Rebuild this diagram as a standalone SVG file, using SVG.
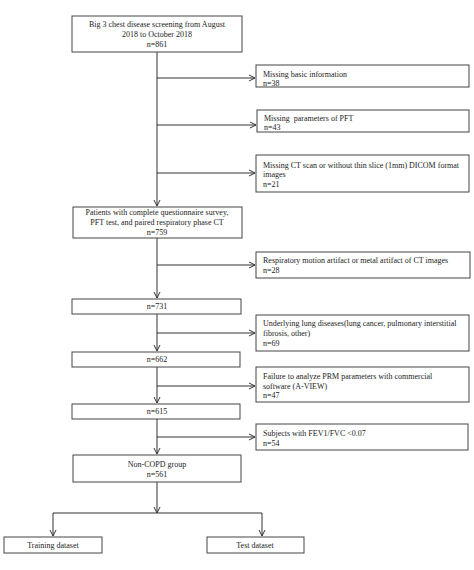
<svg xmlns="http://www.w3.org/2000/svg" width="474" height="570" viewBox="0 0 474 570">
<defs>
<marker id="ah" viewBox="0 0 8 8" refX="7" refY="4" markerWidth="8" markerHeight="8" markerUnits="userSpaceOnUse" orient="auto">
<path d="M1,1 L7,4 L1,7" fill="none" stroke="#333" stroke-width="1"/>
</marker>
<style>
.b{fill:#fff;stroke:#444;stroke-width:1}
.t{font-family:"Liberation Serif","Times New Roman",serif;font-size:8px;fill:#222}
.c{text-anchor:middle}
.l{fill:none;stroke:#333;stroke-width:1}
.a{marker-end:url(#ah)}
</style>
</defs>
<rect width="474" height="570" fill="#fff"/>
<g id="connectors">
<line class="l a" x1="157" y1="52" x2="157" y2="206"/>
<line class="l a" x1="157" y1="78" x2="255" y2="78"/>
<line class="l a" x1="157" y1="125" x2="256" y2="125"/>
<line class="l a" x1="157" y1="173" x2="255" y2="173"/>
<line class="l a" x1="157" y1="238" x2="157" y2="298"/>
<line class="l a" x1="157" y1="265" x2="255" y2="265"/>
<line class="l a" x1="157" y1="314" x2="157" y2="351"/>
<line class="l a" x1="157" y1="333" x2="255" y2="333"/>
<line class="l a" x1="157" y1="367" x2="157" y2="403"/>
<line class="l a" x1="157" y1="386" x2="255" y2="386"/>
<line class="l a" x1="157" y1="419" x2="157" y2="454"/>
<line class="l a" x1="157" y1="437" x2="255" y2="437"/>
<line class="l a" x1="157" y1="482" x2="157" y2="513"/>
<polyline class="l" points="53,513 262,513"/>
<line class="l a" x1="53" y1="513" x2="53" y2="536"/>
<line class="l a" x1="262" y1="513" x2="262" y2="536"/>
</g>
<g id="n1">
<rect class="b" x="72" y="16" width="170" height="36"/>
<text class="t c" x="157" y="27">Big 3 chest disease screening from August</text>
<text class="t c" x="157" y="37">2018 to October 2018</text>
<text class="t c" x="157" y="47">n=861</text>
</g>
<g id="e1">
<rect class="b" x="256" y="65" width="213" height="22"/>
<text class="t" x="263" y="77">Missing basic information</text>
<text class="t" x="263" y="86">n=38</text>
</g>
<g id="e2">
<rect class="b" x="257" y="110" width="212" height="22"/>
<text class="t" x="264" y="121">Missing &#160;parameters of PFT</text>
<text class="t" x="264" y="130">n=43</text>
</g>
<g id="e3">
<rect class="b" x="256" y="155" width="213" height="37"/>
<text class="t" x="263" y="168">Missing CT scan or without thin slice (1mm) DICOM format</text>
<text class="t" x="263" y="177">images</text>
<text class="t" x="263" y="187">n=21</text>
</g>
<g id="n2">
<rect class="b" x="73" y="207" width="169" height="31"/>
<text class="t c" x="157" y="215">Patients with complete questionnaire survey,</text>
<text class="t c" x="157" y="225">PFT test, and paired respiratory phase CT</text>
<text class="t c" x="157" y="235">n=759</text>
</g>
<g id="e4">
<rect class="b" x="256" y="252" width="214" height="26"/>
<text class="t" x="263" y="263">Respiratory motion artifact or metal artifact of CT images</text>
<text class="t" x="263" y="273">n=28</text>
</g>
<g id="n3">
<rect class="b" x="72" y="299" width="169" height="15"/>
<text class="t c" x="157" y="309">n=731</text>
</g>
<g id="e5">
<rect class="b" x="256" y="315" width="213" height="36"/>
<text class="t" x="263" y="326">Underlying lung diseases(lung cancer, pulmonary interstitial</text>
<text class="t" x="263" y="336">fibrosis, other)</text>
<text class="t" x="263" y="346">n=69</text>
</g>
<g id="n4">
<rect class="b" x="72" y="352" width="168" height="15"/>
<text class="t c" x="157" y="362">n=662</text>
</g>
<g id="e6">
<rect class="b" x="256" y="367" width="213" height="35"/>
<text class="t" x="263" y="379">Failure to analyze PRM parameters with commercial</text>
<text class="t" x="263" y="389">software (A-VIEW)</text>
<text class="t" x="263" y="398">n=47</text>
</g>
<g id="n5">
<rect class="b" x="72" y="404" width="168" height="15"/>
<text class="t c" x="157" y="414">n=615</text>
</g>
<g id="e7">
<rect class="b" x="256" y="424" width="212" height="26"/>
<text class="t" x="263" y="436">Subjects with FEV1/FVC &lt;0.07</text>
<text class="t" x="263" y="446">n=54</text>
</g>
<g id="n6">
<rect class="b" x="73" y="455" width="168" height="27"/>
<text class="t c" x="157" y="467">Non-COPD group</text>
<text class="t c" x="157" y="477">n=561</text>
</g>
<g id="n7">
<rect class="b" x="4" y="537" width="98" height="16"/>
<text class="t c" x="53" y="548">Training dataset</text>
</g>
<g id="n8">
<rect class="b" x="207" y="537" width="97" height="16"/>
<text class="t c" x="255" y="548">Test dataset</text>
</g>
</svg>
